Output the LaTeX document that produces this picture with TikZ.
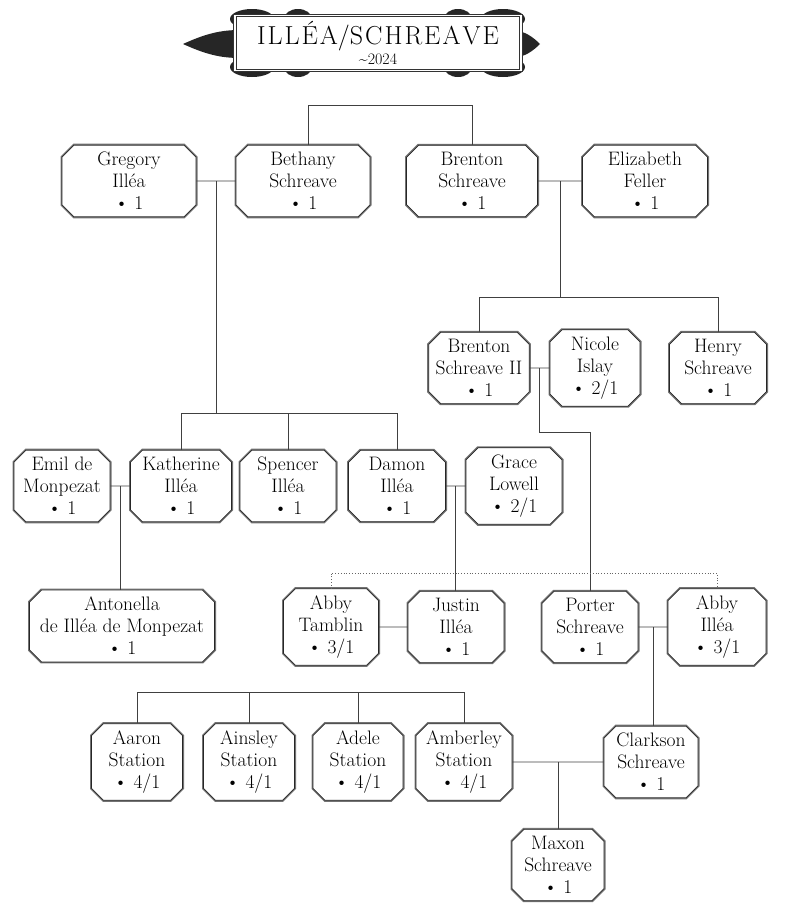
\documentclass[tikz,border=0pt]{standalone}
\usetikzlibrary{shapes.misc,calc}
\begin{document}
\begin{tikzpicture}[x=1pt,y=-1pt,
  p/.style={chamfered rectangle, chamfered rectangle xsep=6pt, chamfered rectangle ysep=6pt,
    minimum width=#1, minimum height=70pt, inner sep=1pt, align=center,
    preaction={draw=black!55, line width=3pt}, fill=white, draw=black!85, line width=0.7pt,
    font=\fontsize{19.5}{22}\selectfont},
  p/.default=96pt,
  ln/.style={draw=black!75, line width=0.8pt},
  dt/.style={draw=black!60, line width=0.8pt, dotted}]
\useasboundingbox (0,0) rectangle (800,913);
% banner ornaments
\fill[black!85] (183,44) .. controls (205,34) and (220,30) .. (240,30) -- (240,58) .. controls (220,58) and (205,54) .. (183,44) -- cycle;
\fill[black!85] (540,44) .. controls (532,36) and (525,32) .. (515,30) -- (515,58) .. controls (525,56) and (532,52) .. (540,44) -- cycle;
\foreach \cx/\rx in {252/22,298/14,458/14,503/22}{
  \fill[black!85] (\cx,19) ellipse (\rx pt and 10pt);
  \fill[black!85] (\cx,67) ellipse (\rx pt and 10pt);}
\node[draw=black!80, fill=white, line width=0.8pt, double=white, double distance=1.5pt,
  minimum width=286pt, minimum height=55pt, inner sep=0pt, align=center] (title) at (378,43)
  {\fontsize{26}{28}\selectfont I\kern2pt L\kern2pt L\kern2pt É\kern2pt A/S\kern2pt C\kern2pt H\kern2pt R\kern2pt E\kern2pt A\kern2pt V\kern2pt E\\[1pt]\fontsize{16}{16}\selectfont\textasciitilde2024};
% people
\node[p=134pt] (greg) at (129,181) {Gregory\\Illéa\\\textbullet\ 1};
\node[p=134pt] (beth) at (303,181) {Bethany\\Schreave\\\textbullet\ 1};
\node[p=131pt] (bren) at (472,181) {Brenton\\Schreave\\\textbullet\ 1};
\node[p=125pt] (eliz) at (645,181) {Elizabeth\\Feller\\\textbullet\ 1};
\node[p=93pt] (bren2) at (479,368) {Brenton\\Schreave II\\\textbullet\ 1};
\node[p=90pt] (nic) at (595,368) {Nicole\\Islay\\\textbullet\ 2/1};
\node[p=97pt] (henry) at (718,368) {Henry\\Schreave\\\textbullet\ 1};
\node[p=96pt] (emil) at (62,486) {Emil de\\Monpezat\\\textbullet\ 1};
\node[p=101pt] (kath) at (181,486) {Katherine\\Illéa\\\textbullet\ 1};
\node[p=96pt] (spen) at (288,486) {Spencer\\Illéa\\\textbullet\ 1};
\node[p=97pt] (damon) at (397,486) {Damon\\Illéa\\\textbullet\ 1};
\node[p=96pt] (grace) at (514,486) {Grace\\Lowell\\\textbullet\ 2/1};
\node[p=185pt] (anto) at (122,626) {Antonella\\de Illéa de Monpezat\\\textbullet\ 1};
\node[p=95pt] (abbyt) at (331,627) {Abby\\Tamblin\\\textbullet\ 3/1};
\node[p=96pt] (justin) at (456,627) {Justin\\Illéa\\\textbullet\ 1};
\node[p=96pt] (porter) at (590,627) {Porter\\Schreave\\\textbullet\ 1};
\node[p=98pt] (abbyi) at (717,627) {Abby\\Illéa\\\textbullet\ 3/1};
\node[p=91pt] (aaron) at (137,762) {Aaron\\Station\\\textbullet\ 4/1};
\node[p=91pt] (ains) at (249,762) {Ainsley\\Station\\\textbullet\ 4/1};
\node[p=90pt] (adele) at (358,762) {Adele\\Station\\\textbullet\ 4/1};
\node[p=96pt] (amb) at (464,762) {Amberley\\Station\\\textbullet\ 4/1};
\node[p=94pt] (clark) at (651,762) {Clarkson\\Schreave\\\textbullet\ 1};
\node[p=92pt] (maxon) at (558,865) {Maxon\\Schreave\\\textbullet\ 1};
% couples
\coordinate (m1) at ($(greg.east)!0.5!(beth.west)$);
\coordinate (m2) at ($(bren.east)!0.5!(eliz.west)$);
\coordinate (m3) at ($(bren2.east)!0.5!(nic.west)$);
\coordinate (m4) at ($(emil.east)!0.5!(kath.west)$);
\coordinate (m5) at ($(damon.east)!0.5!(grace.west)$);
\coordinate (m6) at ($(porter.east)!0.5!(abbyi.west)$);
\coordinate (m7) at ($(amb.east)!0.5!(clark.west)$);
\draw[ln] (greg) -- (beth);
\draw[ln] (bren) -- (eliz);
\draw[ln] (bren2) -- (nic);
\draw[ln] (emil) -- (kath);
\draw[ln] (damon) -- (grace);
\draw[ln] (abbyt) -- (justin);
\draw[ln] (porter) -- (abbyi);
\draw[ln] (amb) -- (clark);
% top
\draw[ln] (beth.north -| 308,0) -- (308,105) -| (bren.north);
% children
\draw[ln] (m1) -- (m1 |- 0,413);
\draw[ln] (kath.north) |- (0,413 -| damon.north) -- (damon.north);
\draw[ln] (spen.north) -- (spen.north |- 0,413);
\draw[ln] (m2) -- (m2 |- 0,297);
\draw[ln] (bren2.north) |- (0,297 -| henry.north) -- (henry.north);
\draw[ln] (m3) -- (m3 |- 0,432) -| (porter.north);
\draw[ln] (m4) -- (anto.north -| m4);
\draw[ln] (m5) -- (justin.north -| m5);
\draw[dt] (abbyt.north) |- (0,573 -| abbyi.north) -- (abbyi.north);
\draw[ln] (m6) -- (clark.north -| m6);
\draw[ln] (aaron.north) |- (0,692 -| amb.north) -- (amb.north);
\draw[ln] (ains.north) -- (ains.north |- 0,692);
\draw[ln] (adele.north) -- (adele.north |- 0,692);
\draw[ln] (m7) -- (maxon.north -| m7);
\end{tikzpicture}
\end{document}
